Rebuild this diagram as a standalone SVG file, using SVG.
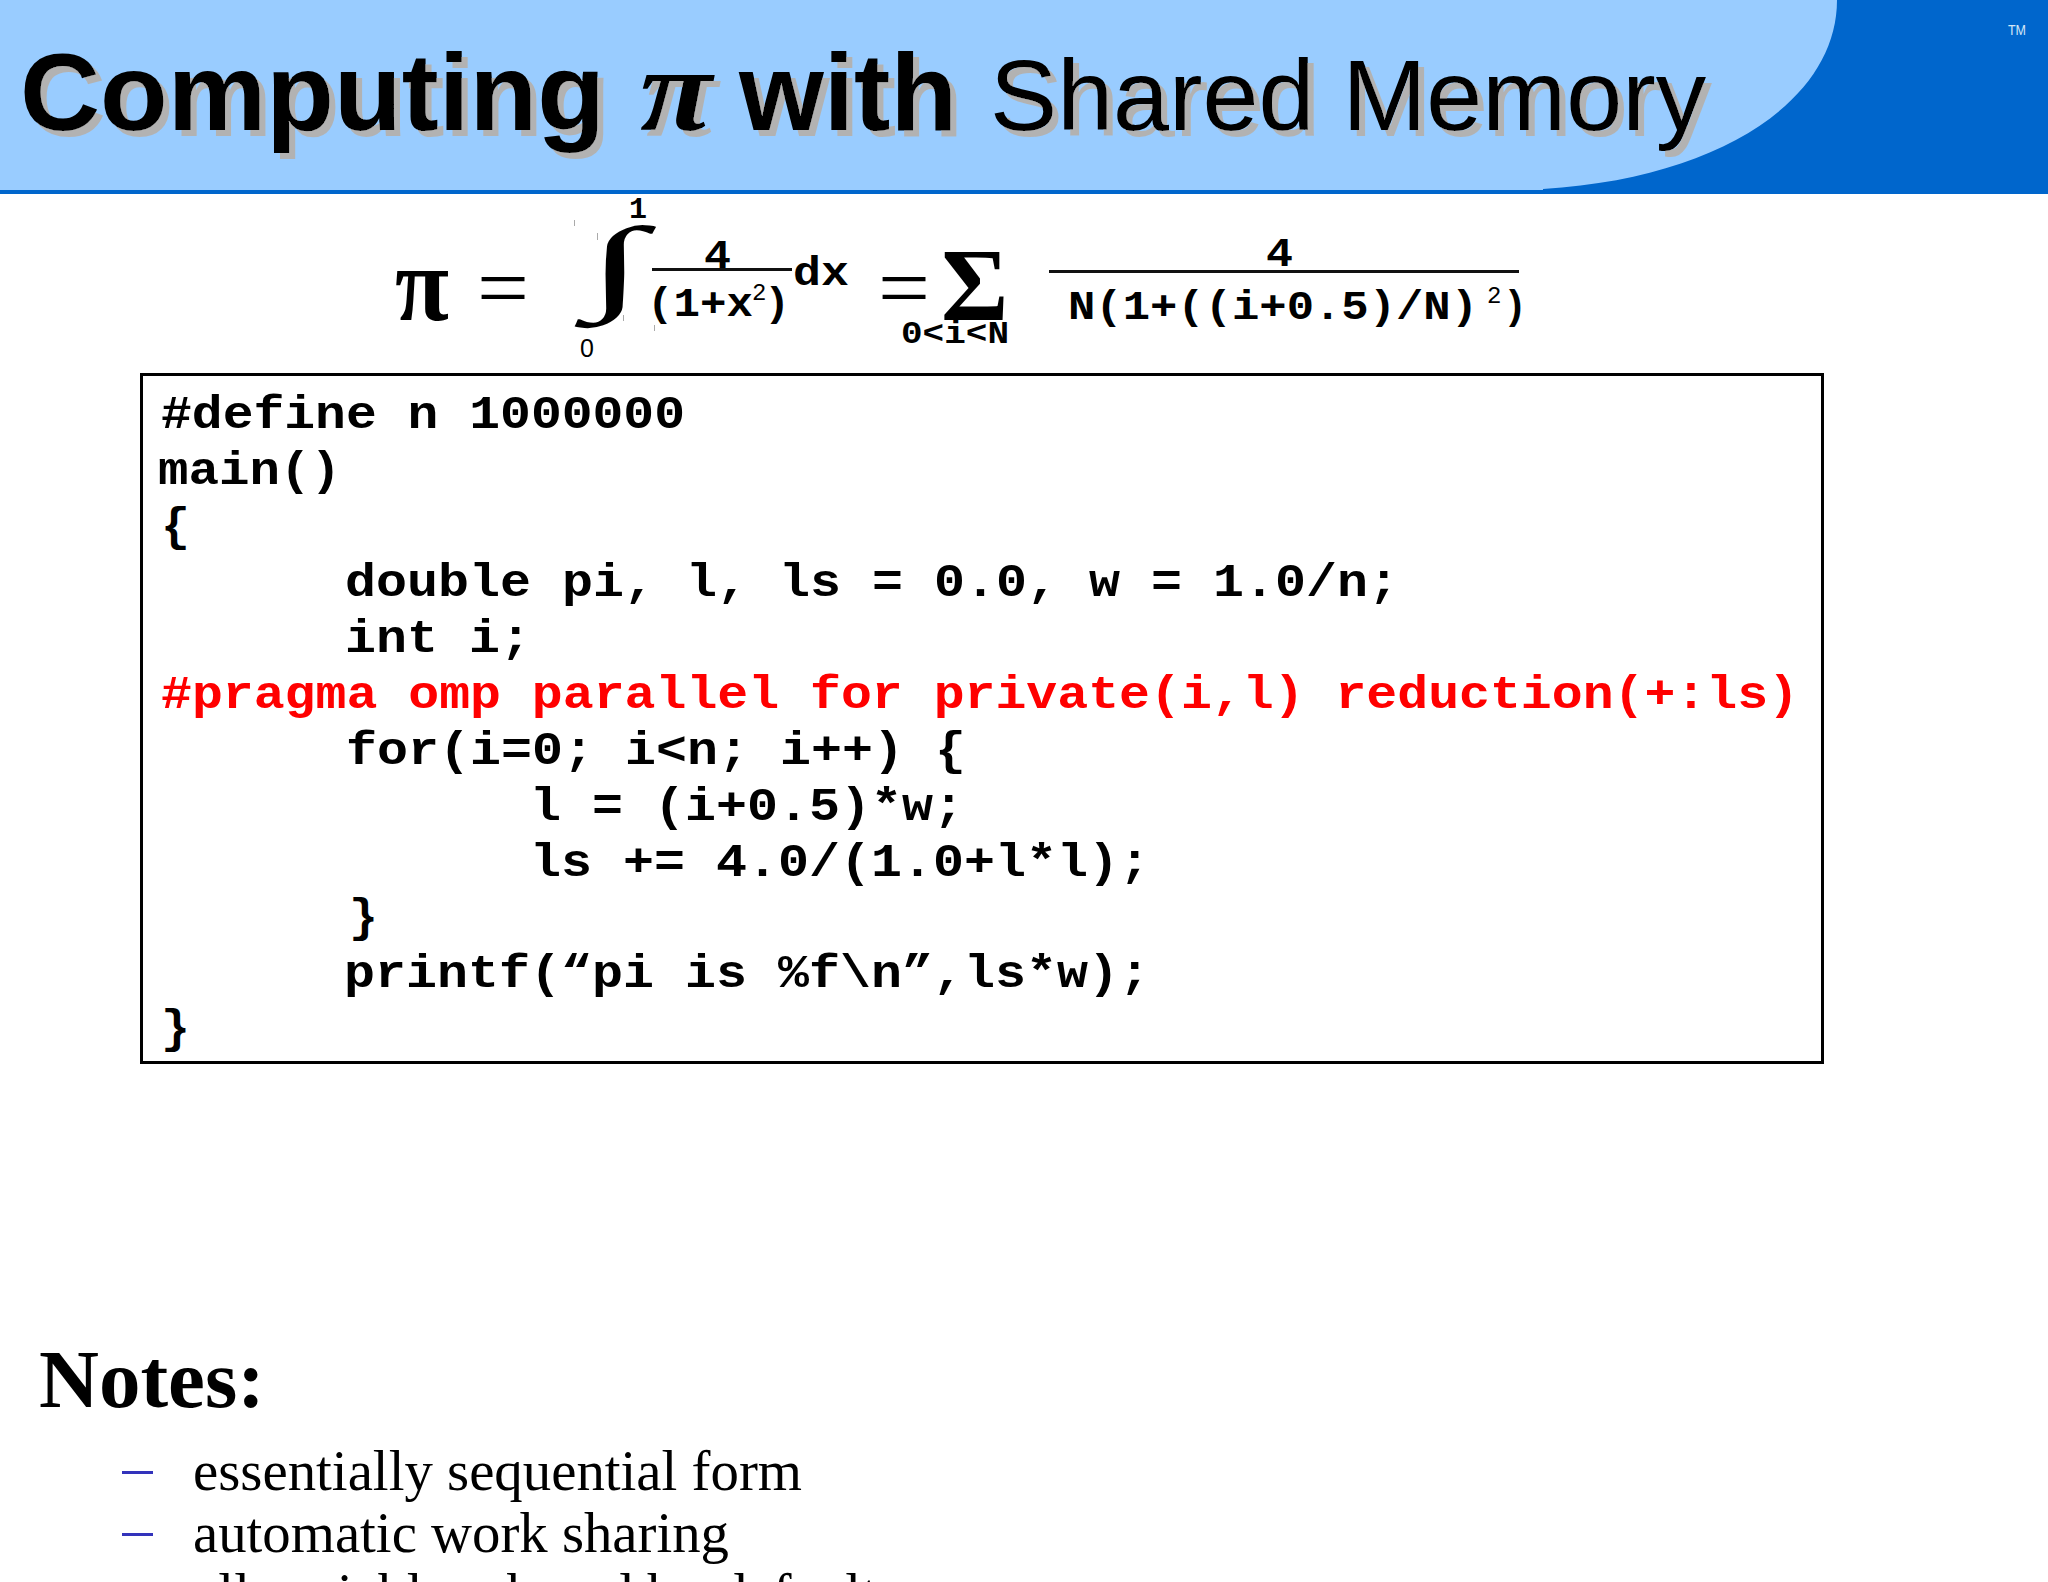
<svg xmlns="http://www.w3.org/2000/svg" width="2048" height="1582" viewBox="0 0 2048 1582">
<defs>
<filter id="shadow" x="-5%" y="-20%" width="110%" height="140%"><feDropShadow dx="6" dy="6" stdDeviation="0.6" flood-color="#b2b2b2" flood-opacity="1"/></filter>
</defs>
<style>
.mono{font-family:"Liberation Mono",monospace;font-weight:bold}
.code{font-size:47px;fill:#000}
.red{fill:#f00}
.eq{font-size:40px}
.sup{font-size:24px;font-weight:normal}
.title{font-family:"Liberation Sans",Arial,sans-serif;fill:#000}
.serif{font-family:"Liberation Serif",serif;fill:#000}
.note{font-size:56px}
</style>
<rect width="2048" height="1582" fill="#fff"/>
<g id="header">
<rect x="0" y="0" width="2048" height="190" fill="#99ccff"/>
<path d="M1837 0C1837 100 1720 178 1543 189L1543 194L2048 194L2048 0Z" fill="#0066cc"/>
<rect x="0" y="190" width="2048" height="4" fill="#0066cc"/>
<g filter="url(#shadow)">
<text class="title" x="20" y="130" font-size="110" font-weight="bold" textLength="585" lengthAdjust="spacingAndGlyphs">Computing</text>
<text class="serif" x="640" y="130" font-size="118" font-weight="bold" font-style="italic" textLength="72" lengthAdjust="spacingAndGlyphs">π</text>
<text class="title" x="739" y="130" font-size="110" font-weight="bold" textLength="218" lengthAdjust="spacingAndGlyphs">with</text>
<text class="title" x="990" y="130" font-size="100" textLength="716" lengthAdjust="spacingAndGlyphs">Shared Memory</text>
</g>
<text x="2008" y="35" font-family="'Liberation Sans',sans-serif" font-size="14" fill="#d5e6f7" textLength="18" lengthAdjust="spacingAndGlyphs">TM</text>
</g>
<g id="formula">
<text class="serif" x="395" y="320" font-size="106" font-weight="bold" textLength="54" lengthAdjust="spacingAndGlyphs">π</text>
<text class="serif" x="477" y="317" font-size="86" textLength="52" lengthAdjust="spacingAndGlyphs">=</text>
<text class="serif" transform="translate(586 300) scale(2.05 1)" font-size="105">∫</text>
<path d="M574.500 220v6M597.500 233v7M623.500 315v6M654.500 325v6" stroke="#aaa" stroke-width="1" fill="none"/>
<text class="mono" x="629" y="218" font-size="30">1</text>
<text x="580" y="357" font-family="'Liberation Sans',sans-serif" font-size="25">0</text>
<text class="mono eq" x="704" y="268" textLength="27" lengthAdjust="spacingAndGlyphs">4</text>
<rect x="652" y="268" width="140" height="3" fill="#111"/>
<text class="mono eq" x="647" y="316" textLength="106" lengthAdjust="spacingAndGlyphs">(1+x</text>
<text class="mono sup" x="752" y="300">2</text>
<text class="mono eq" x="764" y="316" textLength="26" lengthAdjust="spacingAndGlyphs">)</text>
<text class="mono eq" x="793" y="285" textLength="56" lengthAdjust="spacingAndGlyphs">dx</text>
<text class="serif" x="878" y="317" font-size="86" textLength="52" lengthAdjust="spacingAndGlyphs">=</text>
<text class="serif" x="941" y="320" font-size="103" font-weight="bold">Σ</text>
<text class="mono" x="901" y="343" font-size="32" textLength="108" lengthAdjust="spacingAndGlyphs">0&lt;i&lt;N</text>
<text class="mono eq" x="1266" y="266" textLength="27" lengthAdjust="spacingAndGlyphs">4</text>
<rect x="1049" y="270" width="470" height="3" fill="#111"/>
<text class="mono eq" x="1068" y="319" textLength="410" lengthAdjust="spacingAndGlyphs">N(1+((i+0.5)/N)</text>
<text class="mono sup" x="1487" y="303">2</text>
<text class="mono eq" x="1503" y="319">)</text>
</g>
<g id="code-box">
<rect x="141.500" y="374.500" width="1681" height="688" fill="#fff" stroke="#000" stroke-width="3"/>
<text class="mono code" x="161" y="428" textLength="524" lengthAdjust="spacingAndGlyphs">#define n 1000000</text>
<text class="mono code" x="158" y="484" textLength="183" lengthAdjust="spacingAndGlyphs">main()</text>
<text class="mono code" x="161" y="540" textLength="29" lengthAdjust="spacingAndGlyphs">{</text>
<text class="mono code" x="345" y="596" textLength="1054" lengthAdjust="spacingAndGlyphs">double pi, l, ls = 0.0, w = 1.0/n;</text>
<text class="mono code" x="345" y="652" textLength="186" lengthAdjust="spacingAndGlyphs">int i;</text>
<text class="mono code red" x="161" y="708" textLength="1638" lengthAdjust="spacingAndGlyphs">#pragma omp parallel for private(i,l) reduction(+:ls)</text>
<text class="mono code" x="346" y="764" textLength="620" lengthAdjust="spacingAndGlyphs">for(i=0; i&lt;n; i++) {</text>
<text class="mono code" x="530" y="820" textLength="434" lengthAdjust="spacingAndGlyphs">l = (i+0.5)*w;</text>
<text class="mono code" x="530" y="876" textLength="620" lengthAdjust="spacingAndGlyphs">ls += 4.0/(1.0+l*l);</text>
<text class="mono code" x="349" y="931" textLength="29" lengthAdjust="spacingAndGlyphs">}</text>
<text class="mono code" x="344" y="987" textLength="806" lengthAdjust="spacingAndGlyphs">printf(“pi is %f\n”,ls*w);</text>
<text class="mono code" x="161" y="1042" textLength="29" lengthAdjust="spacingAndGlyphs">}</text>
</g>
<g id="notes">
<text class="serif" x="39" y="1407" font-size="83" font-weight="bold">Notes:</text>
<rect x="122" y="1471" width="31" height="3" fill="#3333bb"/>
<text class="serif note" x="193" y="1490" textLength="609" lengthAdjust="spacingAndGlyphs">essentially sequential form</text>
<rect x="122" y="1533" width="31" height="3" fill="#3333bb"/>
<text class="serif note" x="193" y="1552" textLength="536" lengthAdjust="spacingAndGlyphs">automatic work sharing</text>
<text class="serif note" x="193" y="1613" textLength="684" lengthAdjust="spacingAndGlyphs">all variables shared by default</text>
</g>
</svg>
